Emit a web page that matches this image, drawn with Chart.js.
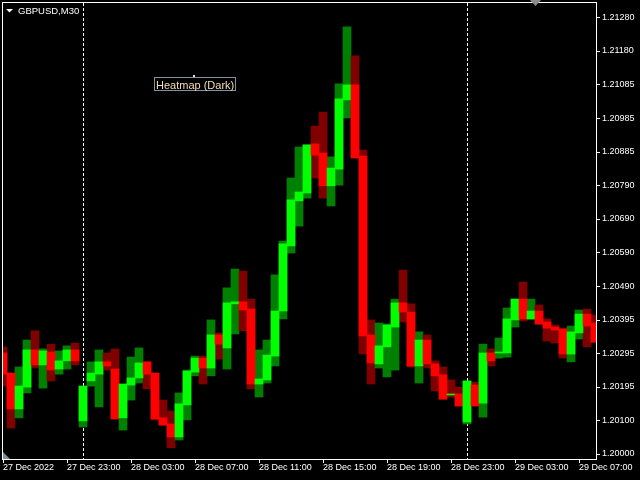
<!DOCTYPE html>
<html>
<head>
<meta charset="utf-8">
<script src="https://cdn.jsdelivr.net/npm/chart.js@4.4.0/dist/chart.umd.min.js"></script>
<style>
html,body{margin:0;padding:0;background:#000;}
canvas{display:block;}
</style>
</head>
<body>
<canvas id="c" width="640" height="480"></canvas>
<script>
// ---------- data ----------
const symbolTitle = 'GBPUSD,M30';
const indicatorLabel = 'Heatmap (Dark)';
const firstBarTime = { day: 27, hour: 19, minute: 0 }; // 27 Dec 2022 19:00, M30 bars
const barCount = 75;

const xTickLabels = ['27 Dec 2022', '27 Dec 23:00', '28 Dec 03:00', '28 Dec 07:00', '28 Dec 11:00',
  '28 Dec 15:00', '28 Dec 19:00', '28 Dec 23:00', '29 Dec 03:00', '29 Dec 07:00'];
const yTickLabels = ['1.20000', '1.20100', '1.20195', '1.20295', '1.20395', '1.20490', '1.20590',
  '1.20690', '1.20790', '1.20885', '1.20985', '1.21085', '1.21180', '1.21280'];
const daySeparators = ['28 Dec 00:00', '29 Dec 00:00'];
const bearishRangeBars = ['28 Dec 23:00'];

const open = [1.20296,1.20237,1.20132,1.20196,1.20305,1.20261,1.20299,1.20249,1.20273,1.20305,
  1.20097,1.20214,1.20234,1.20270,1.20249,1.20106,1.20202,1.20223,1.20270,1.20237,
  1.20106,1.20088,1.20050,1.20144,1.20240,1.20281,1.20252,1.20349,1.20311,1.20440,
  1.20446,1.20425,1.20205,1.20217,1.20287,1.20419,1.20610,1.20742,1.20765,1.20909,
  1.20882,1.20786,1.20835,1.21038,1.21082,1.20873,1.20349,1.20264,1.20314,1.20372,
  1.20443,1.20416,1.20258,1.20334,1.20264,1.20232,1.20173,1.20176,1.20094,1.20202,
  1.20149,1.20296,1.20296,1.20296,1.20393,1.20454,1.20396,1.20419,1.20387,1.20372,
  1.20366,1.20293,1.20355,1.20410,1.20384];
const high = [1.20314,1.20237,1.20255,1.20334,1.20361,1.20308,1.20322,1.20302,1.20317,1.20325,
  1.20199,1.20270,1.20305,1.20296,1.20308,1.20205,1.20284,1.20311,1.20270,1.20237,
  1.20158,1.20126,1.20179,1.20246,1.20287,1.20287,1.20393,1.20355,1.20487,1.20542,
  1.20536,1.20454,1.20305,1.20334,1.20525,1.20624,1.20809,1.20900,1.20906,1.20961,
  1.21002,1.20871,1.21085,1.21252,1.21167,1.20891,1.20393,1.20384,1.20381,1.20454,
  1.20539,1.20440,1.20358,1.20349,1.20273,1.20255,1.20217,1.20196,1.20214,1.20211,
  1.20322,1.20308,1.20340,1.20428,1.20454,1.20504,1.20454,1.20437,1.20396,1.20378,
  1.20369,1.20375,1.20422,1.20425,1.20407];
const low = [1.20199,1.20076,1.20106,1.20179,1.20252,1.20193,1.20214,1.20234,1.20249,1.20261,
  1.20079,1.20199,1.20138,1.20246,1.20102,1.20070,1.20158,1.20208,1.20191,1.20100,
  1.20084,1.20018,1.20041,1.20100,1.20229,1.20205,1.20229,1.20278,1.20249,1.20352,
  1.20361,1.20191,1.20167,1.20208,1.20258,1.20396,1.20589,1.20668,1.20750,1.20809,
  1.20750,1.20727,1.20788,1.20985,1.20867,1.20293,1.20205,1.20252,1.20226,1.20246,
  1.20387,1.20255,1.20208,1.20252,1.20185,1.20160,1.20167,1.20140,1.20088,1.20140,
  1.20108,1.20258,1.20281,1.20284,1.20372,1.20390,1.20395,1.20380,1.20331,1.20325,
  1.20281,1.20270,1.20337,1.20314,1.20327];
const close = [1.20234,1.20132,1.20199,1.20305,1.20261,1.20302,1.20246,1.20273,1.20305,1.20273,
  1.20199,1.20237,1.20270,1.20258,1.20103,1.20205,1.20223,1.20267,1.20234,1.20103,
  1.20085,1.20050,1.20147,1.20243,1.20281,1.20252,1.20349,1.20322,1.20443,1.20446,
  1.20422,1.20205,1.20220,1.20290,1.20419,1.20616,1.20745,1.20768,1.20906,1.20876,
  1.20786,1.20838,1.21041,1.21082,1.20868,1.20346,1.20267,1.20317,1.20378,1.20443,
  1.20416,1.20258,1.20334,1.20264,1.20229,1.20161,1.20176,1.20141,1.20214,1.20141,
  1.20296,1.20273,1.20299,1.20396,1.20454,1.20396,1.20419,1.20381,1.20369,1.20363,
  1.20293,1.20358,1.20410,1.20375,1.20328];

// ---------- categories (bar times) ----------
const categories = [];
{
  let d = firstBarTime.day, h = firstBarTime.hour, m = firstBarTime.minute;
  for (let i = 0; i < barCount; i++) {
    categories.push(d + ' Dec ' + String(h).padStart(2, '0') + ':' + String(m).padStart(2, '0'));
    m += 30; if (m >= 60) { m = 0; h++; } if (h >= 24) { h = 0; d++; }
  }
}

// ---------- styles ----------
const BULL = '#00ff00', BULL_DARK = '#008000', BEAR = '#ff0000', BEAR_DARK = '#800000';
const AXIS_FONT = { family: '"Liberation Sans", Arial, sans-serif', size: 9 };

const bodyColors = categories.map((_, i) => close[i] >= open[i] ? BULL : BEAR);
const rangeColors = categories.map((c, i) =>
  (bearishRangeBars.includes(c) || close[i] < open[i]) ? BEAR_DARK : BULL_DARK);

const Y_MIN = 1.199853, Y_MAX = 1.213219;
const Y_FIRST = parseFloat(yTickLabels[0]), Y_LAST = parseFloat(yTickLabels[yTickLabels.length - 1]);

const zeroPad = axis => { axis.paddingTop = 0; axis.paddingBottom = 0; axis.paddingLeft = 0; axis.paddingRight = 0; };

const decor = {
  id: 'decor',
  beforeDraw(chart) {
    const ctx = chart.ctx;
    ctx.save();
    ctx.fillStyle = '#000';
    ctx.fillRect(0, 0, chart.width, chart.height);
    ctx.restore();
  },
  beforeDatasetsDraw(chart) {
    const { ctx, scales: { x } } = chart;
    ctx.save();
    ctx.strokeStyle = '#ffffff';
    ctx.lineWidth = 1;
    ctx.setLineDash([3, 2]);
    daySeparators.forEach(lbl => {
      const px = Math.round(x.getPixelForValue(categories.indexOf(lbl))) + 0.5;
      ctx.beginPath(); ctx.moveTo(px, 3); ctx.lineTo(px, 459); ctx.stroke();
    });
    ctx.restore();
  },
  afterDraw(chart) {
    const { ctx, scales: { x, y } } = chart;
    ctx.save();
    ctx.setLineDash([]);
    ctx.strokeStyle = '#ffffff';
    ctx.lineWidth = 1;
    // frame
    ctx.strokeRect(2.5, 2.5, 594, 457);
    // y ticks
    y.ticks.forEach((t, i) => {
      const py = Math.round(y.getPixelForTick(i)) + 0.5;
      ctx.beginPath(); ctx.moveTo(597, py); ctx.lineTo(600, py); ctx.stroke();
    });
    // x ticks
    x.ticks.forEach((t, i) => {
      const px = Math.round(x.getPixelForTick(i)) + 0.5;
      ctx.beginPath(); ctx.moveTo(px, 460); ctx.lineTo(px, 463); ctx.stroke();
    });
    // title with dropdown triangle
    ctx.fillStyle = '#ffffff';
    ctx.beginPath(); ctx.moveTo(6, 9); ctx.lineTo(13, 9); ctx.lineTo(9.5, 12.5); ctx.closePath(); ctx.fill();
    ctx.font = '9.5px "Liberation Sans", Arial, sans-serif';
    ctx.textBaseline = 'alphabetic';
    ctx.fillText(symbolTitle, 18, 14);
    // indicator label box
    ctx.strokeStyle = '#8491a0';
    ctx.strokeRect(154.5, 77.5, 81, 13);
    ctx.fillStyle = '#f5deb3';
    ctx.font = '11px "Liberation Sans", Arial, sans-serif';
    ctx.fillText(indicatorLabel, 156, 88.5);
    ctx.fillRect(193, 75, 2, 2);
    // shift marker (top) and corner marker (bottom-left)
    ctx.fillStyle = '#8c8c8c';
    ctx.beginPath(); ctx.moveTo(530, 0); ctx.lineTo(541, 0); ctx.lineTo(535.5, 6); ctx.closePath(); ctx.fill();
    ctx.fillStyle = '#7f8c9c';
    ctx.beginPath(); ctx.moveTo(3, 452); ctx.lineTo(3, 459); ctx.lineTo(10, 459); ctx.closePath(); ctx.fill();
    ctx.restore();
  }
};

new Chart(document.getElementById('c'), {
  type: 'bar',
  data: {
    labels: categories,
    datasets: [
      {
        label: 'body',
        data: categories.map((_, i) => [open[i], close[i]]),
        backgroundColor: bodyColors,
        borderWidth: 0,
        grouped: false,
        barPercentage: 1,
        categoryPercentage: 1,
        minBarLength: 1,
        order: 0,
        clip: { left: 0, top: 0, right: 1, bottom: 0 }
      },
      {
        label: 'range',
        data: categories.map((_, i) => [low[i], high[i]]),
        backgroundColor: rangeColors,
        borderWidth: 0,
        grouped: false,
        barPercentage: 1,
        categoryPercentage: 1,
        minBarLength: 1,
        order: 1,
        clip: { left: 0, top: 0, right: 1, bottom: 0 }
      }
    ]
  },
  options: {
    responsive: false,
    animation: false,
    devicePixelRatio: 1,
    layout: { padding: { left: 3, top: 3, right: 0, bottom: 0 } },
    plugins: { legend: { display: false }, tooltip: { enabled: false } },
    scales: {
      x: {
        type: 'category',
        offset: false,
        grid: { display: false, drawTicks: false, offset: false },
        border: { display: false },
        afterBuildTicks: axis => { axis.ticks = axis.ticks.filter((t, i) => i % 8 === 0); },
        afterFit: axis => { axis.height = 21; zeroPad(axis); },
        ticks: {
          autoSkip: false,
          maxRotation: 0,
          minRotation: 0,
          align: 'start',
          padding: 3,
          color: '#ffffff',
          font: AXIS_FONT,
          callback: (v, i) => xTickLabels[i]
        }
      },
      y: {
        type: 'linear',
        position: 'right',
        min: Y_MIN,
        max: Y_MAX,
        grid: { display: false, drawTicks: false },
        border: { display: false },
        afterBuildTicks: axis => {
          const n = yTickLabels.length - 1;
          axis.ticks = yTickLabels.map((l, j) => ({ value: Y_FIRST + (Y_LAST - Y_FIRST) * j / n }));
        },
        afterFit: axis => { axis.width = 45; zeroPad(axis); },
        ticks: {
          padding: 7,
          color: '#ffffff',
          font: AXIS_FONT,
          callback: (v, i) => yTickLabels[i]
        }
      }
    }
  },
  plugins: [decor]
});
</script>
</body>
</html>
